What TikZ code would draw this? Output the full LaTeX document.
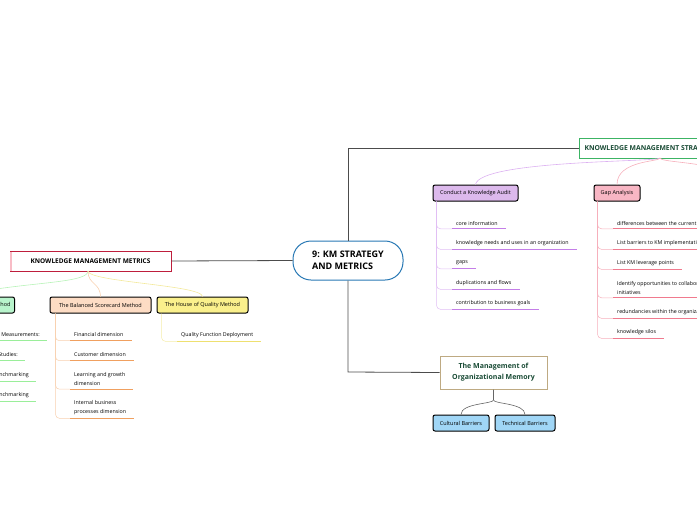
\documentclass[tikz,border=0pt]{standalone}
\usepackage{fontspec}
\setmainfont{Open Sans}
\begin{document}
\begin{tikzpicture}[x=1pt,y=-1pt,
  box/.style={draw=black,line width=1pt,rounded corners=2pt,inner xsep=4pt,minimum height=16pt,font=\fontsize{5.5}{6}\selectfont},
  leaf/.style={inner xsep=4pt,inner ysep=3.5pt,anchor=west,align=left,font=\fontsize{5.3}{9}\selectfont},
  trunk/.style={draw=black!70,line width=0.8pt},
  br/.style={rounded corners=4pt,line width=0.5pt},
  ul/.style={line width=1.2pt}]
\useasboundingbox (0,0) rectangle (697,520);
\clip (0,0) rectangle (697,520);
\definecolor{pu}{HTML}{C47EE8}\definecolor{pk}{HTML}{F07A8E}
\definecolor{og}{HTML}{F0A060}\definecolor{gn}{HTML}{9AEE9A}
\definecolor{yl}{HTML}{EEE070}\definecolor{dg}{HTML}{184A34}
% central
\node[draw={rgb,255:red,40;green,120;blue,180},line width=1pt,rounded corners=18pt,minimum width=110pt,minimum height=39pt,align=left,font=\fontsize{9}{11.5}\selectfont\bfseries] (c) at (348,260.5) {9: KM STRATEGY\\AND METRICS};
% right top
\node[draw={rgb,255:red,60;green,180;blue,100},line width=1pt,anchor=west,minimum height=20pt,inner xsep=5pt,font=\fontsize{6.8}{8}\selectfont\bfseries,text=dg] (kms) at (579,148) {KNOWLEDGE MANAGEMENT STRATEGIES};
\node[draw={rgb,255:red,190;green,170;blue,130},line width=1pt,minimum width=107pt,minimum height=33pt,align=center,font=\fontsize{7}{11}\selectfont\bfseries,text=dg] (mem) at (493.5,372.5) {The Management of\\Organizational Memory};
\node[draw={rgb,255:red,190;green,30;blue,60},line width=1pt,minimum width=161pt,minimum height=20pt,font=\fontsize{6.5}{8}\selectfont\bfseries] (kmm) at (90.5,261) {KNOWLEDGE MANAGEMENT METRICS};
\fill[pk!50] (10,251.5) rectangle (11.5,270.5);
\draw[trunk] (c.north) -- (348,148) -- (kms.west);
\draw[trunk] (c.south) -- (348,372) -- (mem.west);
\draw[trunk] (c.west) -- (kmm.east);
% audit
\node[box,fill={rgb,255:red,220;green,185;blue,236},minimum width=85pt] (aud) at (475.5,193) {Conduct a Knowledge Audit};
\node[box,fill={rgb,255:red,248;green,182;blue,196},minimum width=46pt] (gap) at (617,193) {Gap Analysis};
\draw[pu!60,line width=0.6pt] (660,158) .. controls (660,162) and (480,160) .. (aud.north);
\draw[pk!60,line width=0.6pt] (660,158) .. controls (660,162) and (617,160) .. (gap.north);
\draw[pk!60,line width=0.6pt] (660,158) .. controls (660,162) and (700,162) .. (720,170);
\foreach \n/\y/\t in {a1/223/core information,a2/243/knowledge needs  and uses in an organization,a3/263/gaps,a4/283/duplications and flows,a5/303/contribution to business goals}{
  \node[leaf] (\n) at (452,\y) {\t};
  \draw[br,pu!50] ([xshift=4pt]aud.south west) |- (\n.south west);
  \draw[ul,pu] (\n.south west) -- ([xshift=4pt]\n.south east);}
\foreach \n/\y/\t in {g1/223/differences between the current and desired state,g2/243/List barriers to KM implementation,g3/263/List KM leverage points,g4/287.5/Identify opportunities to collaborate on\\initiatives,g5/312/redundancies within the organization,g6/332/knowledge silos}{
  \node[leaf] (\n) at (613,\y) {\t};
  \draw[br,pk!60] ([xshift=4pt]gap.south west) |- (\n.south west);
  \draw[ul,pk] (\n.south west) -- ([xshift=4pt]\n.south east);}
% memory children
\node[box,fill={rgb,255:red,160;green,214;blue,246},minimum width=56pt] (cul) at (461,423) {Cultural Barriers};
\node[box,fill={rgb,255:red,160;green,214;blue,246},minimum width=60pt] (tec) at (525,423) {Technical Barriers};
\draw[black!60,line width=0.6pt] (mem.south) -- (493.5,400) .. controls (493.5,404) and (461,403) .. (cul.north);
\draw[black!60,line width=0.6pt] (493.5,400) .. controls (493.5,404) and (525,403) .. (tec.north);
% metrics children
\node[box,fill={rgb,255:red,184;green,244;blue,204},anchor=east,minimum width=50pt] (gm) at (15,305) {Benchmarking Method};
\node[box,fill={rgb,255:red,253;green,220;blue,196},minimum width=101pt] (bsc) at (100.5,305) {The Balanced Scorecard Method};
\node[box,fill={rgb,255:red,250;green,240;blue,140},minimum width=91pt] (hq) at (202.5,305) {The House of Quality Method};
\draw[gn!70,line width=0.6pt] (88,271) .. controls (88,282) and (40,282) .. (-10,290);
\draw[og!50,line width=0.6pt] (88,271) .. controls (88,285) and (100,282) .. (bsc.north);
\draw[yl!70,line width=0.6pt] (88,271) .. controls (88,282) and (202,285) .. (hq.north);
\foreach \n/\y/\t in {b1/335/Financial dimension,b2/355/Customer dimension,b3/379/Learning and growth\\dimension,b4/407.5/Internal business\\processes dimension}{
  \node[leaf] (\n) at (70,\y) {\t};
  \draw[br,og!50] ([xshift=6pt]bsc.south west) |- (\n.south west);
  \draw[ul,og] (\n.south west) -- ([xshift=4pt]\n.south east);}
\node[leaf] (h1) at (177,335) {Quality Function Deployment};
\draw[br,yl!60] ([xshift=5pt]hq.south west) |- (h1.south west);
\draw[ul,yl] (h1.south west) -- ([xshift=4pt]h1.south east);
\foreach \n/\y/\x/\t in {k1/335/44/Performance Measurements:,k2/355/22/Case Studies:,k3/375/33/Internal Benchmarking,k4/395/33/External Benchmarking}{
  \node[leaf,anchor=east] (\n) at (\x,\y) {\t};
  \draw[ul,gn] (\n.south west) -- ([xshift=3pt]\n.south east);}
\end{tikzpicture}
\end{document}
